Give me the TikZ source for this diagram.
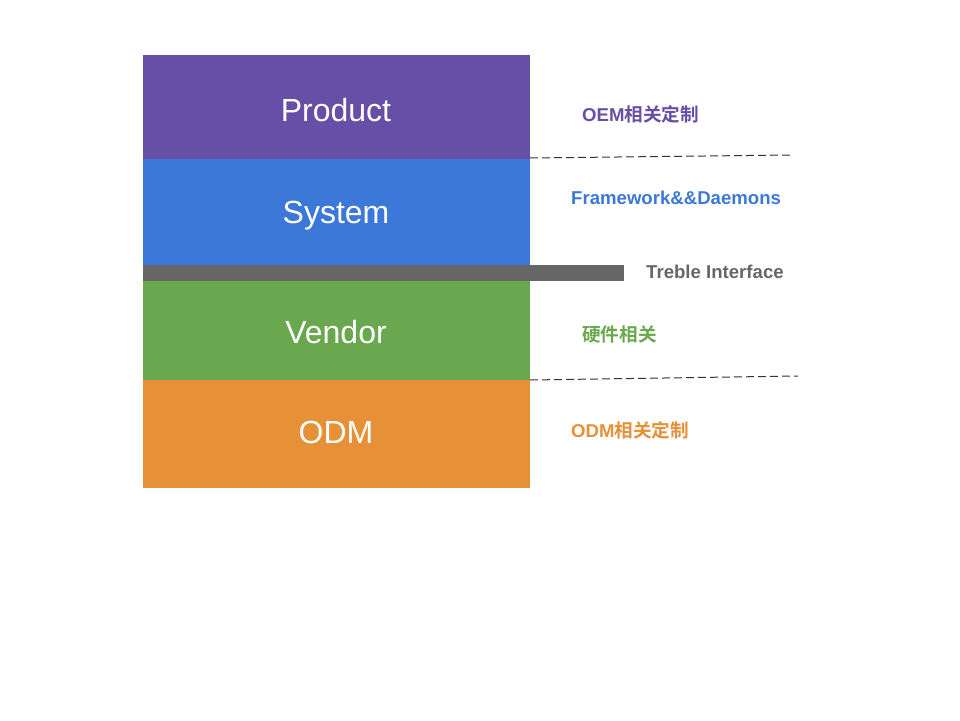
\documentclass[tikz,border=0pt]{standalone}
\usepackage{fontspec}
\setmainfont{Liberation Sans}
\newfontfamily\cjk{Noto Sans CJK SC}[BoldFont={* Bold}]
\definecolor{cprod}{HTML}{674EA7}
\definecolor{csys}{HTML}{3C78D8}
\definecolor{cven}{HTML}{6AA84F}
\definecolor{codm}{HTML}{E69138}
\definecolor{cbar}{HTML}{666666}
\begin{document}
\begin{tikzpicture}[x=1pt,y=-1pt,
  layer/.style={draw=none,inner sep=0pt,outer sep=0pt,minimum width=387pt,anchor=north west},
  title/.style={anchor=base,inner sep=0pt,text=white,font=\fontsize{32}{38}\selectfont},
  note/.style={anchor=west,inner sep=0pt,font=\fontsize{18.6}{22}\selectfont\bfseries},
  sep/.style={draw=black!80,line width=1pt,dash pattern=on 8pt off 4pt}]
\useasboundingbox (0,0) rectangle (960,720);
\node[layer,fill=cprod,minimum height=104pt] (prod) at (143,55) {};
\node[layer,fill=csys,minimum height=106pt] (sys) at (143,159) {};
\node[layer,fill=cven,minimum height=99pt] (ven) at (143,281) {};
\node[layer,fill=codm,minimum height=108pt] (odm) at (143,380) {};
\node[draw=none,fill=cbar,inner sep=0pt,minimum width=481pt,minimum height=16pt,anchor=north west] (bar) at (143,265) {};
\node[title] (tprod) at (336,121) {Product};
\node[title] (tsys) at (336,223) {System};
\node[title] (tven) at (336,343) {Vendor};
\node[title] (todm) at (336,443) {ODM};
\node[note,text=cprod] (n1) at (582,114) {OEM{\cjk 相关定制}};
\node[note,text=csys] (n2) at (571,198) {Framework\&\&Daemons};
\node[note,text=cbar] (n3) at (646,272) {Treble Interface};
\node[note,text=cven] (n4) at (582,334) {{\cjk 硬件相关}};
\node[note,text=codm] (n5) at (571,430) {ODM{\cjk 相关定制}};
\coordinate (d1a) at (530,158);
\coordinate (d1b) at (792,155);
\coordinate (d2a) at (530,380);
\coordinate (d2b) at (798,376);
\draw[sep] (d1a) -- (d1b);
\draw[sep] (d2a) -- (d2b);
\end{tikzpicture}
\end{document}
